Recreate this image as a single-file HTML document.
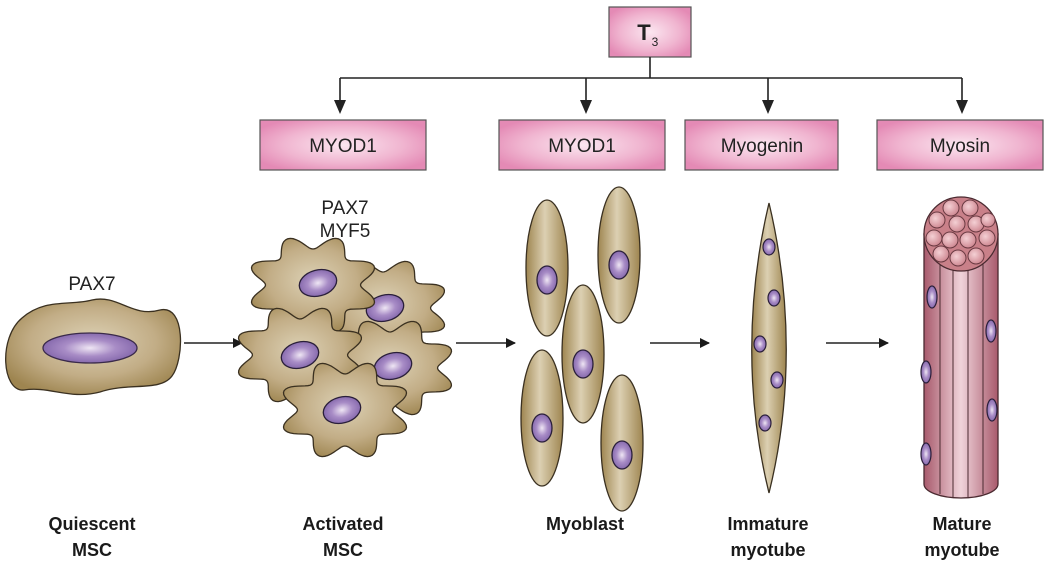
<!DOCTYPE html>
<html><head><meta charset="utf-8"><style>
html,body{margin:0;padding:0;background:#fff;}
svg{display:block;}
text{font-family:"Liberation Sans",sans-serif;}
</style></head><body>
<svg id="s" width="1050" height="566" viewBox="0 0 1050 566" xmlns="http://www.w3.org/2000/svg">
<defs>
<radialGradient id="pk" cx="50%" cy="50%" r="60%"><stop offset="0" stop-color="#fbe6f0"/><stop offset="0.6" stop-color="#f0b5d0"/><stop offset="1" stop-color="#e48ab5"/></radialGradient>
<radialGradient id="tan" cx="50%" cy="45%" r="60%"><stop offset="0" stop-color="#ddd2b6"/><stop offset="0.6" stop-color="#c2ad86"/><stop offset="1" stop-color="#9e8550"/></radialGradient>
<linearGradient id="tanH" x1="0" x2="1"><stop offset="0" stop-color="#9e8550"/><stop offset="0.45" stop-color="#dcd0b2"/><stop offset="1" stop-color="#9e8550"/></linearGradient>
<radialGradient id="nuc" cx="50%" cy="50%" r="55%"><stop offset="0" stop-color="#efe6f4"/><stop offset="0.5" stop-color="#a88cc6"/><stop offset="1" stop-color="#8063a8"/></radialGradient>
<linearGradient id="cyl" x1="0" x2="1"><stop offset="0" stop-color="#a85a6c"/><stop offset="0.5" stop-color="#f0d3da"/><stop offset="1" stop-color="#a85a6c"/></linearGradient>
<radialGradient id="fib" cx="40%" cy="40%" r="60%"><stop offset="0" stop-color="#f4d0d4"/><stop offset="1" stop-color="#d08a94"/></radialGradient>
<marker id="ar" markerWidth="10" markerHeight="10" refX="9" refY="5" orient="auto" markerUnits="userSpaceOnUse"><path d="M0,0 L10,5 L0,10 Z" fill="#1a1a1a"/></marker>
</defs>
<rect x="609" y="7" width="82" height="50" fill="url(#pk)" stroke="#555" stroke-width="1.2"/>
<text x="644" y="40" font-size="22" font-weight="bold" text-anchor="middle" fill="#222">T</text>
<text x="655" y="46" font-size="12" text-anchor="middle" fill="#222">3</text>
<g stroke="#222" stroke-width="1.6" fill="none">
<line x1="650" y1="57" x2="650" y2="78"/>
<line x1="340" y1="78" x2="962" y2="78"/>
</g>
<g fill="#222">
<line x1="340" y1="78" x2="340" y2="103" stroke="#222" stroke-width="1.6"/><path d="M334,100 L346,100 L340,114 Z"/>
<line x1="586" y1="78" x2="586" y2="103" stroke="#222" stroke-width="1.6"/><path d="M580,100 L592,100 L586,114 Z"/>
<line x1="768" y1="78" x2="768" y2="103" stroke="#222" stroke-width="1.6"/><path d="M762,100 L774,100 L768,114 Z"/>
<line x1="962" y1="78" x2="962" y2="103" stroke="#222" stroke-width="1.6"/><path d="M956,100 L968,100 L962,114 Z"/>
</g>
<g stroke="#555" stroke-width="1.2" fill="url(#pk)">
<rect x="260" y="120" width="166" height="50"/>
<rect x="499" y="120" width="166" height="50"/>
<rect x="685" y="120" width="153" height="50"/>
<rect x="877" y="120" width="166" height="50"/>
</g>
<g font-size="19" text-anchor="middle" fill="#222">
<text x="343" y="152">MYOD1</text>
<text x="582" y="152">MYOD1</text>
<text x="762" y="152">Myogenin</text>
<text x="960" y="152">Myosin</text>
<text x="92" y="290">PAX7</text>
<text x="345" y="214">PAX7</text>
<text x="345" y="237">MYF5</text>
</g>
<path d="M22,318 C45,298 70,306 92,300 C118,294 132,318 160,310 C186,304 184,360 172,376 C160,392 130,382 100,392 C70,400 50,386 24,390 C2,392 -2,338 22,318 Z" fill="url(#tan)" stroke="#3a3020" stroke-width="1.3"/>
<ellipse cx="90" cy="348" rx="47" ry="15" fill="url(#nuc)" stroke="#3a2a4a" stroke-width="1.3"/>
<g stroke="#222" stroke-width="1.6" marker-end="url(#ar)">
<line x1="184" y1="343" x2="242" y2="343"/>
<line x1="456" y1="343" x2="515" y2="343"/>
<line x1="650" y1="343" x2="709" y2="343"/>
<line x1="826" y1="343" x2="888" y2="343"/>
</g>
<g id="stars"></g>
<g stroke="#3a3020" stroke-width="1.3">
<ellipse cx="547" cy="268" rx="21" ry="68" fill="url(#tanH)"/>
<ellipse cx="619" cy="255" rx="21" ry="68" fill="url(#tanH)"/>
<ellipse cx="542" cy="418" rx="21" ry="68" fill="url(#tanH)"/>
<ellipse cx="622" cy="443" rx="21" ry="68" fill="url(#tanH)"/>
<ellipse cx="583" cy="354" rx="21" ry="69" fill="url(#tanH)"/>
</g>
<g stroke="#2a1f3a" stroke-width="1.3" fill="url(#nuc)">
<ellipse cx="547" cy="280" rx="10" ry="14"/>
<ellipse cx="619" cy="265" rx="10" ry="14"/>
<ellipse cx="583" cy="364" rx="10" ry="14"/>
<ellipse cx="542" cy="428" rx="10" ry="14"/>
<ellipse cx="622" cy="455" rx="10" ry="14"/>
</g>
<path d="M769,203 C792,300 792,400 769,493 C746,400 746,300 769,203 Z" fill="url(#tanH)" stroke="#3a3020" stroke-width="1.3"/>
<g stroke="#2a1f3a" stroke-width="1.2" fill="url(#nuc)">
<ellipse cx="769" cy="247" rx="6" ry="8"/>
<ellipse cx="774" cy="298" rx="6" ry="8"/>
<ellipse cx="760" cy="344" rx="6" ry="8"/>
<ellipse cx="777" cy="380" rx="6" ry="8"/>
<ellipse cx="765" cy="423" rx="6" ry="8"/>
</g>
<path d="M924,234 L924,484 A37,14 0 0 0 998,484 L998,234 Z" fill="url(#cyl)" stroke="#4a2a30" stroke-width="1.3"/>
<g stroke="#4a2a30" stroke-width="1">
<line x1="940" y1="250" x2="940" y2="494"/>
<line x1="953" y1="250" x2="953" y2="497"/>
<line x1="968" y1="250" x2="968" y2="497"/>
<line x1="983" y1="250" x2="983" y2="494"/>
</g>
<circle cx="961" cy="234" r="37" fill="#c98089" stroke="#4a2a30" stroke-width="1.3"/>
<g fill="url(#fib)" stroke="#6a3a42" stroke-width="1">
<circle cx="951" cy="208" r="8"/><circle cx="970" cy="208" r="8"/>
<circle cx="937" cy="220" r="8"/><circle cx="957" cy="224" r="8"/><circle cx="976" cy="224" r="8"/><circle cx="988" cy="220" r="7"/>
<circle cx="934" cy="238" r="8"/><circle cx="950" cy="240" r="8"/><circle cx="968" cy="240" r="8"/><circle cx="987" cy="238" r="8"/>
<circle cx="941" cy="254" r="8"/><circle cx="958" cy="258" r="8"/><circle cx="976" cy="256" r="8"/>
</g>
<g stroke="#2a1f3a" stroke-width="1.2" fill="url(#nuc)">
<ellipse cx="932" cy="297" rx="5" ry="11"/>
<ellipse cx="991" cy="331" rx="5" ry="11"/>
<ellipse cx="926" cy="372" rx="5" ry="11"/>
<ellipse cx="992" cy="410" rx="5" ry="11"/>
<ellipse cx="926" cy="454" rx="5" ry="11"/>
</g>
<g font-size="18" font-weight="bold" text-anchor="middle" fill="#1a1a1a">
<text x="92" y="530">Quiescent</text><text x="92" y="556">MSC</text>
<text x="343" y="530">Activated</text><text x="343" y="556">MSC</text>
<text x="585" y="530">Myoblast</text>
<text x="768" y="530">Immature</text><text x="768" y="556">myotube</text>
<text x="962" y="530">Mature</text><text x="962" y="556">myotube</text>
</g>
</svg>
<script>
(function(){
var g=document.getElementById('stars');var NS='http://www.w3.org/2000/svg';
var cells=[[383,308,385,308,0.3],[390,368,393,366,0.8],[313,285,318,283,0],[300,355,300,355,0.5],[345,410,342,410,0.2]];
cells.forEach(function(c){
var cx=c[0],cy=c[1],n=8,rx=66,ry=50,ri=0.72,d='';
for(var i=0;i<=160;i++){var t=i/160*Math.PI*2+c[4];
var r=1-(1-ri)*(0.5+0.5*Math.cos(t*n));
var x=cx+rx*r*Math.cos(t),y=cy+ry*r*Math.sin(t);d+=(i?'L':'M')+x.toFixed(1)+','+y.toFixed(1);}
var p=document.createElementNS(NS,'path');p.setAttribute('d',d+'Z');p.setAttribute('fill','url(#tan)');p.setAttribute('stroke','#3a3020');p.setAttribute('stroke-width','1.3');g.appendChild(p);
var e=document.createElementNS(NS,'ellipse');e.setAttribute('cx',c[2]);e.setAttribute('cy',c[3]);e.setAttribute('rx',19);e.setAttribute('ry',13);e.setAttribute('transform','rotate(-15 '+c[2]+' '+c[3]+')');e.setAttribute('fill','url(#nuc)');e.setAttribute('stroke','#2a1f3a');e.setAttribute('stroke-width','1.3');g.appendChild(e);
});
})();
</script>
</body></html>
